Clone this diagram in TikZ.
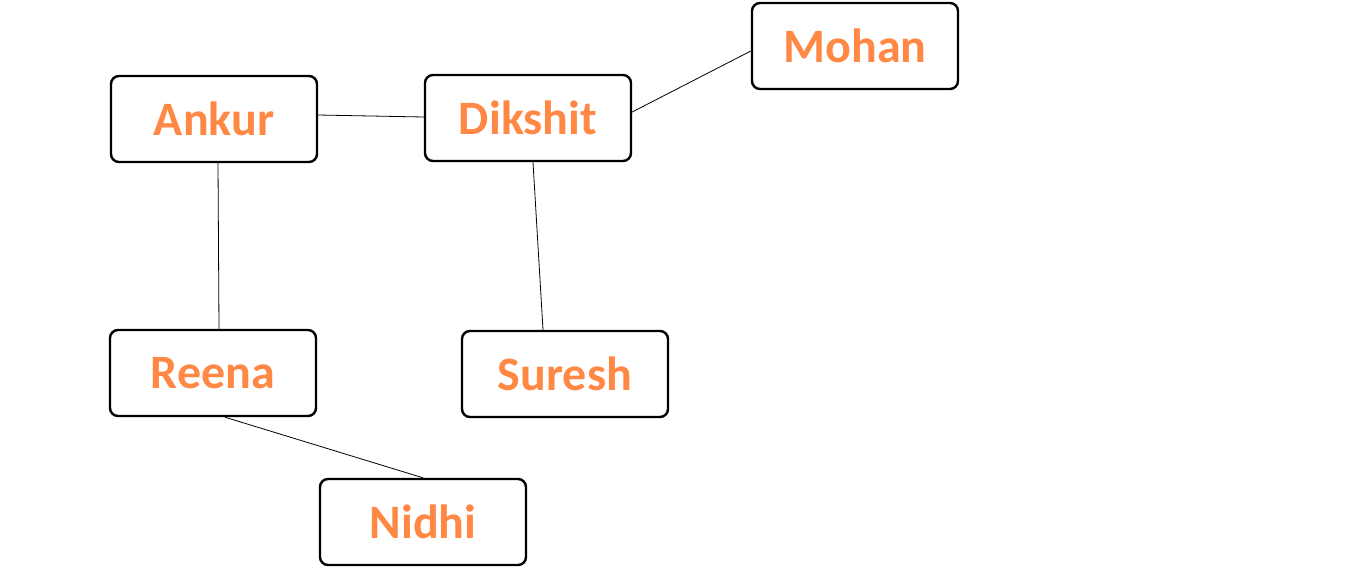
\documentclass[tikz,border=0pt]{standalone}
\usepackage{fontspec}
\setmainfont{Carlito}
\definecolor{nameorange}{HTML}{FF8845}
\begin{document}
\begin{tikzpicture}[x=0.5pt, y=-0.5pt,
    person/.style={draw=black, line width=1.2pt, rounded corners=4pt,
        minimum width=103pt, minimum height=43pt, inner sep=0pt,
        text=nameorange, font=\fontsize{24}{27}\selectfont\bfseries},
    link/.style={draw=black, line width=0.4pt}]
    \useasboundingbox (0,0) rectangle (1366,580);
    \node[person] (ankur)   at (214,119) {Ankur};
    \node[person] (dikshit) at (528,118) {Dikshit};
    \node[person] (mohan)   at (855,46)  {Mohan};
    \node[person] (reena)   at (213,373) {Reena};
    \node[person] (suresh)  at (565,374) {Suresh};
    \node[person] (nidhi)   at (423,522) {Nidhi};
    \draw[link] ([yshift=2pt]ankur.east) -- ([yshift=0.5pt]dikshit.west);
    \draw[link] ([yshift=3pt]dikshit.east) -- ([yshift=-2.5pt]mohan.west);
    \draw[link] ([xshift=2pt]ankur.south) -- ([xshift=3pt]reena.north);
    \draw[link] ([xshift=2.5pt]dikshit.south) -- ([xshift=-11pt]suresh.north);
    \draw[link] ([xshift=6pt]reena.south) -- (nidhi.north);
\end{tikzpicture}
\end{document}
